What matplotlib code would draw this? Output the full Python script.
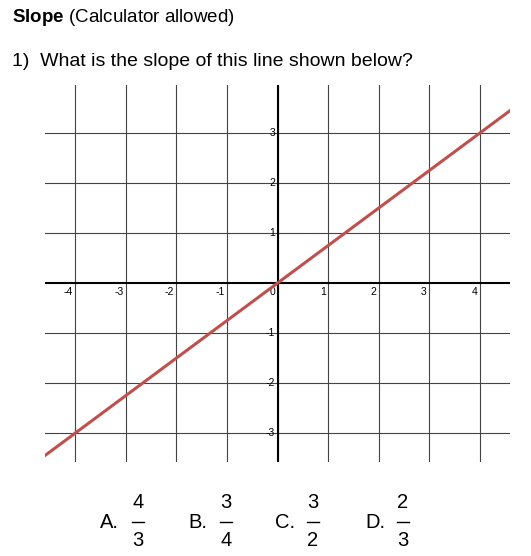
import numpy as np
import matplotlib.pyplot as plt

plt.rcParams['font.family'] = ['Liberation Sans', 'DejaVu Sans']
plt.rcParams['mathtext.fontset'] = 'custom'
plt.rcParams['mathtext.bf'] = 'Liberation Sans:bold'

# data
slope_num, slope_den = 3, 4
x_ticks = [-4, -3, -2, -1, 0, 1, 2, 3, 4]
y_ticks = [-3, -2, -1, 1, 2, 3]
choices = ["A.", "B.", "C.", "D."]
fracs = [("4", "3"), ("3", "4"), ("3", "2"), ("2", "3")]

fig = plt.figure(figsize=(5.31, 5.56), dpi=100)
ax = fig.add_axes([0.0847, 0.169, 0.876, 0.678])
xmin, xmax, ymin, ymax = -4.6, 4.6, -3.58, 3.96
ax.set_xlim(xmin, xmax)
ax.set_ylim(ymin, ymax)
for s in ax.spines.values():
    s.set_visible(False)
ax.set_xticks([])
ax.set_yticks([])

for x in x_ticks:
    ax.axvline(x, color="#444444", lw=0.8, zorder=1)
for y in y_ticks:
    ax.axhline(y, color="#444444", lw=0.8, zorder=1)
ax.axhline(0, color="black", lw=1.5, zorder=2)
ax.axvline(0, color="black", lw=1.5, zorder=2)

for x in x_ticks:
    if x != 0:
        ax.text(x - 0.05, -0.08, str(x), ha="right", va="top", fontsize=7.5)
for y in y_ticks:
    ax.text(-0.05, y, str(y), ha="right", va="center", fontsize=7.5)
ax.text(-0.05, -0.08, "0", ha="right", va="top", fontsize=7.5)

xs = np.array([xmin, xmax])
ax.plot(xs, xs * slope_num / slope_den, color="#c0504d", lw=2.2, zorder=3)

fig.text(12 / 531, 1 - 18 / 556, r"$\bf{Slope}$ (Calculator allowed)", fontsize=13.5, va="center")
fig.text(12 / 531, 1 - 62 / 556, "1)  What is the slope of this line shown below?", fontsize=14, va="center")

xpos = [100, 188, 275, 365]
for xp, c, (n, d) in zip(xpos, choices, fracs):
    fig.text(xp / 531, 1 - 522 / 556, c, fontsize=14.5, va="center")
    fx = (xp + 38) / 531
    fig.text(fx, 1 - 503 / 556, n, fontsize=14.5, ha="center", va="center")
    fig.text(fx, 1 - 540 / 556, d, fontsize=14.5, ha="center", va="center")
    fig.add_artist(plt.Line2D([fx - 6 / 531, fx + 6 / 531], [1 - 522 / 556] * 2, color="black", lw=1))

fig.savefig("out.png", dpi=100)
